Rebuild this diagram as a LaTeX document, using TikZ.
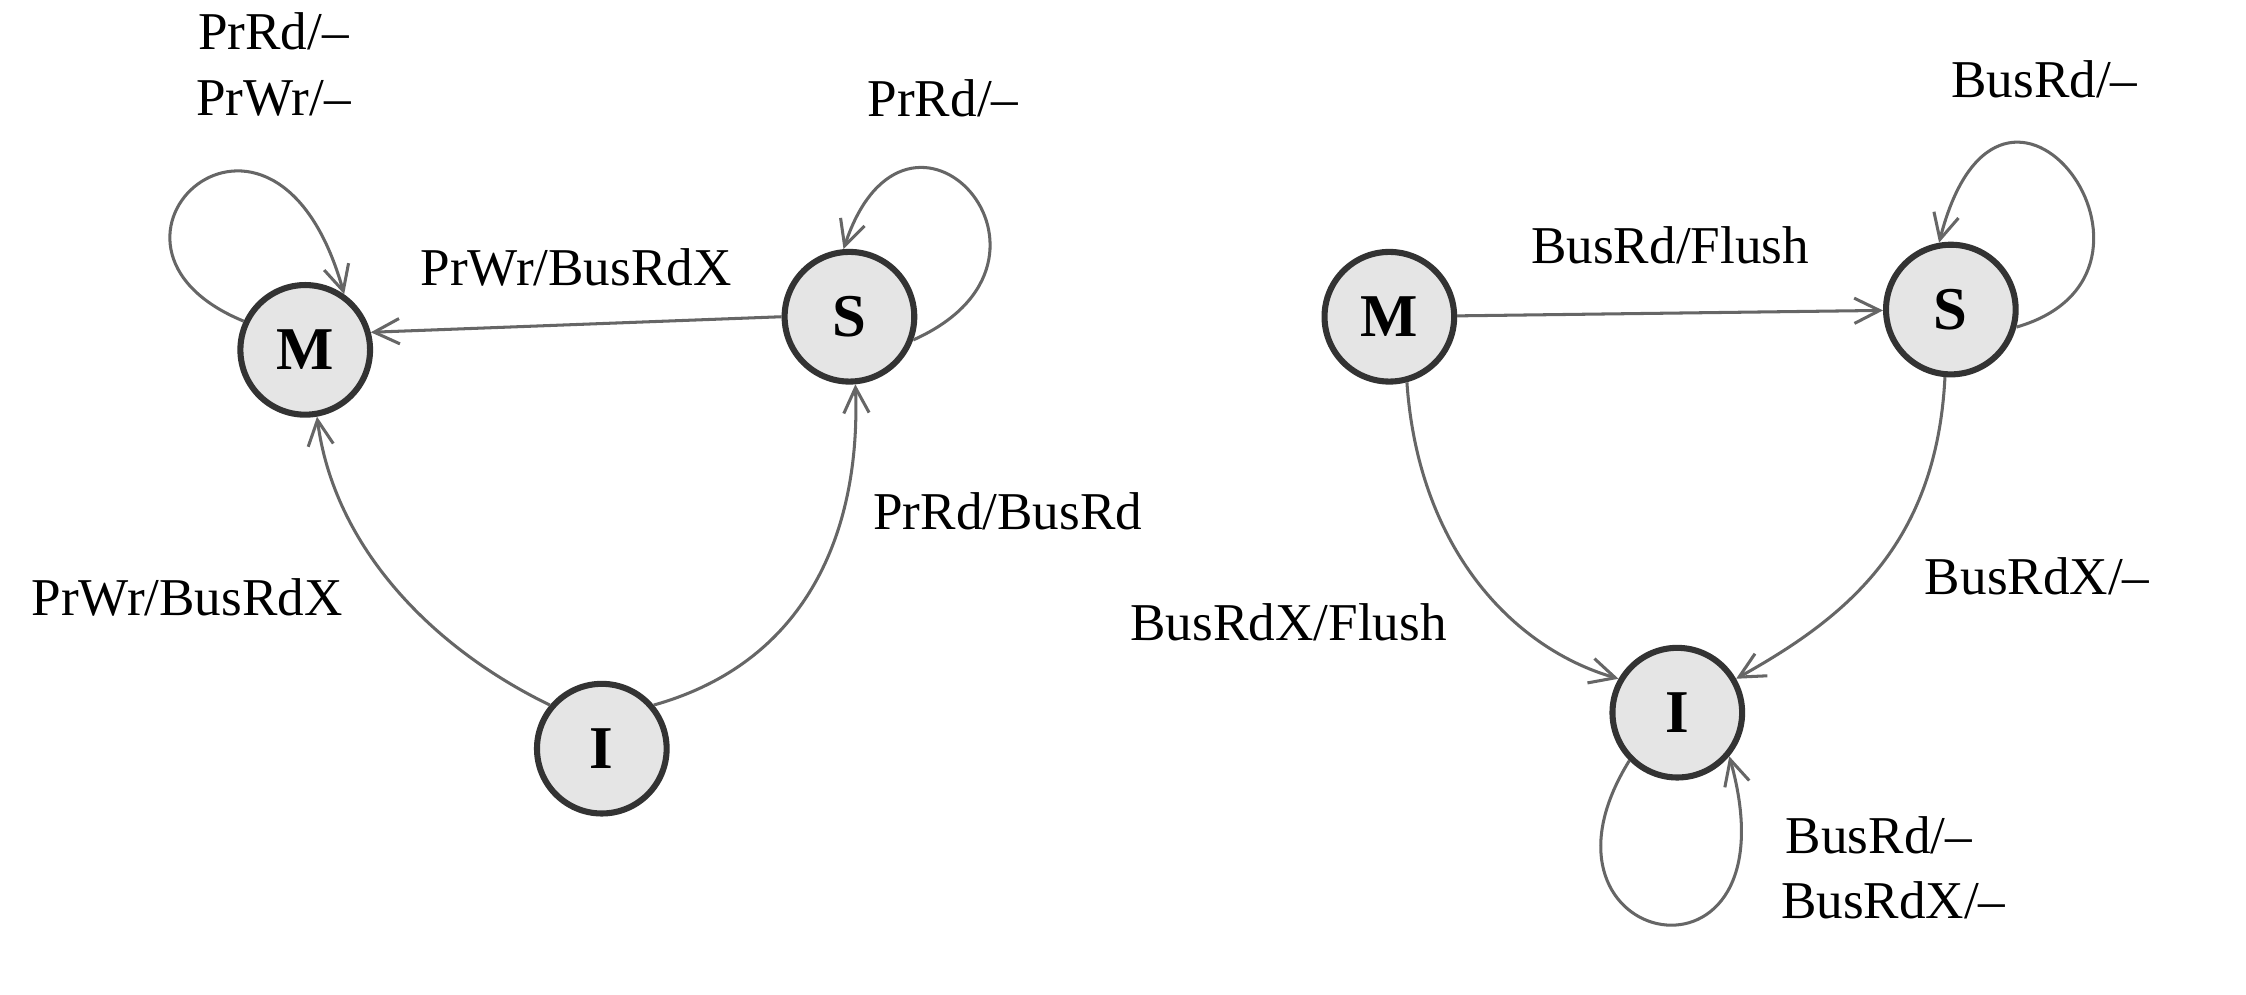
\documentclass[tikz,border=0pt]{standalone}
\usepackage{fontspec}
\setmainfont{Liberation Serif}
\usetikzlibrary{arrows.meta,positioning}
\tikzset{
  state/.style={circle, draw=black!80, line width=1.2pt, fill=black!10, minimum size=0.9cm, inner sep=0pt, font=\bfseries\large},
  trans/.style={draw=black!60, line width=0.6pt, -{Straight Barb[length=5pt,width=5pt]}},
  lab/.style={font=\fontsize{10.5}{12}\selectfont}
}
\begin{document}
\begin{tikzpicture}[x=0.01cm, y=-0.01cm]
\useasboundingbox (0,0) rectangle (1560,691);
% processor-initiated transitions
\node[state] (lM) at (212,243) {M};
\node[state] (lS) at (590,220) {S};
\node[state] (lI) at (418,520) {I};

\draw[trans] (lM.155) .. controls (40,170) and (190,30) .. (lM.55);
\node[lab] (lMr) at (190,22) {PrRd/--};
\node[lab] (lMw) at (190,68) {PrWr/--};
\draw[trans] (lS.-20) .. controls (760,180) and (630,40) .. (lS.95);
\node[lab] (lSr) at (655,68) {PrRd/--};
\draw[trans] (lS.180) -- (lM.15) node[lab, midway, above=4pt] {PrWr/BusRdX};
\draw[trans] (lI.140) .. controls (300,450) and (232,380) .. (lM.-80);
\node[lab] (lIM) at (130,415) {PrWr/BusRdX};
\draw[trans] (lI.40) .. controls (560,460) and (598,370) .. (lS.-85);
\node[lab] (lIS) at (700,355) {PrRd/BusRd};

% bus-initiated transitions
\node[state] (rM) at (965,220) {M};
\node[state] (rS) at (1355,215) {S};
\node[state] (rI) at (1165,495) {I};

\draw[trans] (rS.-15) .. controls (1530,190) and (1390,0) .. (rS.100);
\node[lab] (rSr) at (1420,55) {BusRd/--};
\draw[trans] (rM) -- (rS) node[lab, midway, above=6pt] {BusRd/Flush};
\draw[trans] (rM.-75) .. controls (985,380) and (1050,450) .. (rI.150);
\node[lab] (rMI) at (895,432) {BusRdX/Flush};
\draw[trans] (rS.-95) .. controls (1345,380) and (1280,430) .. (rI.30);
\node[lab] (rSI) at (1415,400) {BusRdX/--};
\draw[trans] (rI.-135) .. controls (1050,660) and (1250,700) .. (rI.-40);
\node[lab] (rIr) at (1305,580) {BusRd/--};
\node[lab] (rIx) at (1315,625) {BusRdX/--};
\end{tikzpicture}
\end{document}
